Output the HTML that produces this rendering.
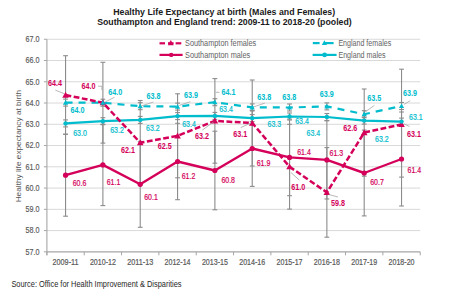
<!DOCTYPE html><html><head><meta charset="utf-8"><style>html,body{margin:0;padding:0;background:#fff;width:449px;height:297px;overflow:hidden}svg{display:block}text{font-family:"Liberation Sans", sans-serif}</style></head><body>
<svg width="449" height="297" viewBox="0 0 449 297">
<rect width="449" height="297" fill="#fff"/>
<text x="113.20" y="15.20" font-size="9.30" fill="#1a1a1a" text-anchor="start" font-weight="bold" textLength="222.00" lengthAdjust="spacingAndGlyphs">Healthy Life Expectancy at birth (Males and Females)</text>
<text x="97.20" y="25.00" font-size="9.30" fill="#1a1a1a" text-anchor="start" font-weight="bold" textLength="254.50" lengthAdjust="spacingAndGlyphs">Southampton and England trend: 2009-11 to 2018-20 (pooled)</text>
<line x1="46.90" y1="230.59" x2="420.20" y2="230.59" stroke="#d9d9d9" stroke-width="1"/>
<line x1="46.90" y1="209.33" x2="420.20" y2="209.33" stroke="#d9d9d9" stroke-width="1"/>
<line x1="46.90" y1="188.07" x2="420.20" y2="188.07" stroke="#d9d9d9" stroke-width="1"/>
<line x1="46.90" y1="166.81" x2="420.20" y2="166.81" stroke="#d9d9d9" stroke-width="1"/>
<line x1="46.90" y1="145.55" x2="420.20" y2="145.55" stroke="#d9d9d9" stroke-width="1"/>
<line x1="46.90" y1="124.29" x2="420.20" y2="124.29" stroke="#d9d9d9" stroke-width="1"/>
<line x1="46.90" y1="103.03" x2="420.20" y2="103.03" stroke="#d9d9d9" stroke-width="1"/>
<line x1="46.90" y1="81.77" x2="420.20" y2="81.77" stroke="#d9d9d9" stroke-width="1"/>
<line x1="46.90" y1="60.51" x2="420.20" y2="60.51" stroke="#d9d9d9" stroke-width="1"/>
<line x1="46.90" y1="39.25" x2="420.20" y2="39.25" stroke="#d9d9d9" stroke-width="1"/>
<line x1="46.90" y1="39.25" x2="46.90" y2="255.35" stroke="#a6a6a6" stroke-width="1.1"/>
<line x1="43.90" y1="251.85" x2="46.90" y2="251.85" stroke="#a6a6a6" stroke-width="1"/>
<text x="39.60" y="254.75" font-size="8.20" fill="#595959" text-anchor="end" stroke="#595959" stroke-width="0.15" textLength="14.00" lengthAdjust="spacingAndGlyphs">57.0</text>
<line x1="43.90" y1="230.59" x2="46.90" y2="230.59" stroke="#a6a6a6" stroke-width="1"/>
<text x="39.60" y="233.49" font-size="8.20" fill="#595959" text-anchor="end" stroke="#595959" stroke-width="0.15" textLength="14.00" lengthAdjust="spacingAndGlyphs">58.0</text>
<line x1="43.90" y1="209.33" x2="46.90" y2="209.33" stroke="#a6a6a6" stroke-width="1"/>
<text x="39.60" y="212.23" font-size="8.20" fill="#595959" text-anchor="end" stroke="#595959" stroke-width="0.15" textLength="14.00" lengthAdjust="spacingAndGlyphs">59.0</text>
<line x1="43.90" y1="188.07" x2="46.90" y2="188.07" stroke="#a6a6a6" stroke-width="1"/>
<text x="39.60" y="190.97" font-size="8.20" fill="#595959" text-anchor="end" stroke="#595959" stroke-width="0.15" textLength="14.00" lengthAdjust="spacingAndGlyphs">60.0</text>
<line x1="43.90" y1="166.81" x2="46.90" y2="166.81" stroke="#a6a6a6" stroke-width="1"/>
<text x="39.60" y="169.71" font-size="8.20" fill="#595959" text-anchor="end" stroke="#595959" stroke-width="0.15" textLength="14.00" lengthAdjust="spacingAndGlyphs">61.0</text>
<line x1="43.90" y1="145.55" x2="46.90" y2="145.55" stroke="#a6a6a6" stroke-width="1"/>
<text x="39.60" y="148.45" font-size="8.20" fill="#595959" text-anchor="end" stroke="#595959" stroke-width="0.15" textLength="14.00" lengthAdjust="spacingAndGlyphs">62.0</text>
<line x1="43.90" y1="124.29" x2="46.90" y2="124.29" stroke="#a6a6a6" stroke-width="1"/>
<text x="39.60" y="127.19" font-size="8.20" fill="#595959" text-anchor="end" stroke="#595959" stroke-width="0.15" textLength="14.00" lengthAdjust="spacingAndGlyphs">63.0</text>
<line x1="43.90" y1="103.03" x2="46.90" y2="103.03" stroke="#a6a6a6" stroke-width="1"/>
<text x="39.60" y="105.93" font-size="8.20" fill="#595959" text-anchor="end" stroke="#595959" stroke-width="0.15" textLength="14.00" lengthAdjust="spacingAndGlyphs">64.0</text>
<line x1="43.90" y1="81.77" x2="46.90" y2="81.77" stroke="#a6a6a6" stroke-width="1"/>
<text x="39.60" y="84.67" font-size="8.20" fill="#595959" text-anchor="end" stroke="#595959" stroke-width="0.15" textLength="14.00" lengthAdjust="spacingAndGlyphs">65.0</text>
<line x1="43.90" y1="60.51" x2="46.90" y2="60.51" stroke="#a6a6a6" stroke-width="1"/>
<text x="39.60" y="63.41" font-size="8.20" fill="#595959" text-anchor="end" stroke="#595959" stroke-width="0.15" textLength="14.00" lengthAdjust="spacingAndGlyphs">66.0</text>
<line x1="43.90" y1="39.25" x2="46.90" y2="39.25" stroke="#a6a6a6" stroke-width="1"/>
<text x="39.60" y="42.15" font-size="8.20" fill="#595959" text-anchor="end" stroke="#595959" stroke-width="0.15" textLength="14.00" lengthAdjust="spacingAndGlyphs">67.0</text>
<line x1="46.90" y1="251.85" x2="420.20" y2="251.85" stroke="#a6a6a6" stroke-width="1.1"/>
<line x1="46.90" y1="251.85" x2="46.90" y2="255.35" stroke="#a6a6a6" stroke-width="1"/>
<line x1="84.23" y1="251.85" x2="84.23" y2="255.35" stroke="#a6a6a6" stroke-width="1"/>
<line x1="121.56" y1="251.85" x2="121.56" y2="255.35" stroke="#a6a6a6" stroke-width="1"/>
<line x1="158.89" y1="251.85" x2="158.89" y2="255.35" stroke="#a6a6a6" stroke-width="1"/>
<line x1="196.22" y1="251.85" x2="196.22" y2="255.35" stroke="#a6a6a6" stroke-width="1"/>
<line x1="233.55" y1="251.85" x2="233.55" y2="255.35" stroke="#a6a6a6" stroke-width="1"/>
<line x1="270.88" y1="251.85" x2="270.88" y2="255.35" stroke="#a6a6a6" stroke-width="1"/>
<line x1="308.21" y1="251.85" x2="308.21" y2="255.35" stroke="#a6a6a6" stroke-width="1"/>
<line x1="345.54" y1="251.85" x2="345.54" y2="255.35" stroke="#a6a6a6" stroke-width="1"/>
<line x1="382.87" y1="251.85" x2="382.87" y2="255.35" stroke="#a6a6a6" stroke-width="1"/>
<line x1="420.20" y1="251.85" x2="420.20" y2="255.35" stroke="#a6a6a6" stroke-width="1"/>
<text x="65.56" y="264.70" font-size="8.60" fill="#595959" text-anchor="middle" stroke="#595959" stroke-width="0.20" textLength="26.00" lengthAdjust="spacingAndGlyphs">2009-11</text>
<text x="102.89" y="264.70" font-size="8.60" fill="#595959" text-anchor="middle" stroke="#595959" stroke-width="0.20" textLength="26.00" lengthAdjust="spacingAndGlyphs">2010-12</text>
<text x="140.22" y="264.70" font-size="8.60" fill="#595959" text-anchor="middle" stroke="#595959" stroke-width="0.20" textLength="26.00" lengthAdjust="spacingAndGlyphs">2011-13</text>
<text x="177.56" y="264.70" font-size="8.60" fill="#595959" text-anchor="middle" stroke="#595959" stroke-width="0.20" textLength="26.00" lengthAdjust="spacingAndGlyphs">2012-14</text>
<text x="214.88" y="264.70" font-size="8.60" fill="#595959" text-anchor="middle" stroke="#595959" stroke-width="0.20" textLength="26.00" lengthAdjust="spacingAndGlyphs">2013-15</text>
<text x="252.22" y="264.70" font-size="8.60" fill="#595959" text-anchor="middle" stroke="#595959" stroke-width="0.20" textLength="26.00" lengthAdjust="spacingAndGlyphs">2014-16</text>
<text x="289.54" y="264.70" font-size="8.60" fill="#595959" text-anchor="middle" stroke="#595959" stroke-width="0.20" textLength="26.00" lengthAdjust="spacingAndGlyphs">2015-17</text>
<text x="326.87" y="264.70" font-size="8.60" fill="#595959" text-anchor="middle" stroke="#595959" stroke-width="0.20" textLength="26.00" lengthAdjust="spacingAndGlyphs">2016-18</text>
<text x="364.20" y="264.70" font-size="8.60" fill="#595959" text-anchor="middle" stroke="#595959" stroke-width="0.20" textLength="26.00" lengthAdjust="spacingAndGlyphs">2017-19</text>
<text x="401.53" y="264.70" font-size="8.60" fill="#595959" text-anchor="middle" stroke="#595959" stroke-width="0.20" textLength="26.00" lengthAdjust="spacingAndGlyphs">2018-20</text>
<text x="0" y="0" font-size="7.7" fill="#595959" text-anchor="middle" textLength="112.5" lengthAdjust="spacingAndGlyphs" transform="translate(21.2 146.1) rotate(-90)">Healthy life expectancy at birth</text>
<text x="11.40" y="287.00" font-size="8.60" fill="#262626" text-anchor="start" textLength="170.20" lengthAdjust="spacingAndGlyphs">Source: Office for Health Improvement &amp; Disparities</text>
<line x1="159.50" y1="43.30" x2="165.00" y2="43.30" stroke="#d4005a" stroke-width="2.2"/>
<line x1="175.60" y1="43.30" x2="181.30" y2="43.30" stroke="#d4005a" stroke-width="2.2"/>
<line x1="168.00" y1="43.30" x2="173.60" y2="43.30" stroke="#d4005a" stroke-width="2.2"/>
<path d="M170.80 40.10L173.70 45.32L167.90 45.32Z" fill="#d4005a"/>
<line x1="159.50" y1="54.90" x2="182.60" y2="54.90" stroke="#d4005a" stroke-width="2.2"/>
<circle cx="171.20" cy="54.90" r="2.20" fill="#d4005a"/>
<text x="185.00" y="46.20" font-size="8.40" fill="#636363" text-anchor="start" textLength="71.20" lengthAdjust="spacingAndGlyphs">Southampton females</text>
<text x="185.00" y="57.80" font-size="8.40" fill="#636363" text-anchor="start" textLength="65.20" lengthAdjust="spacingAndGlyphs">Southampton males</text>
<line x1="312.80" y1="43.10" x2="319.60" y2="43.10" stroke="#00bccd" stroke-width="2.2"/>
<line x1="325.00" y1="43.10" x2="333.60" y2="43.10" stroke="#00bccd" stroke-width="2.2"/>
<path d="M324.40 40.30L327.00 44.98L321.80 44.98Z" fill="#00bccd"/>
<line x1="312.60" y1="54.90" x2="336.60" y2="54.90" stroke="#00bccd" stroke-width="2.2"/>
<circle cx="324.60" cy="54.90" r="2.40" fill="#00bccd"/>
<text x="338.40" y="46.20" font-size="8.40" fill="#636363" text-anchor="start" textLength="52.80" lengthAdjust="spacingAndGlyphs">England females</text>
<text x="338.40" y="57.80" font-size="8.40" fill="#636363" text-anchor="start" textLength="47.20" lengthAdjust="spacingAndGlyphs">England males</text>
<line x1="65.56" y1="55.70" x2="65.56" y2="134.30" stroke="#8c8c8c" stroke-width="1.1"/>
<line x1="63.16" y1="55.70" x2="67.97" y2="55.70" stroke="#8c8c8c" stroke-width="1.1"/>
<line x1="63.16" y1="134.30" x2="67.97" y2="134.30" stroke="#8c8c8c" stroke-width="1.1"/>
<line x1="65.56" y1="134.20" x2="65.56" y2="216.20" stroke="#8c8c8c" stroke-width="1.1"/>
<line x1="63.16" y1="134.20" x2="67.97" y2="134.20" stroke="#8c8c8c" stroke-width="1.1"/>
<line x1="63.16" y1="216.20" x2="67.97" y2="216.20" stroke="#8c8c8c" stroke-width="1.1"/>
<line x1="65.56" y1="99.10" x2="65.56" y2="106.10" stroke="#8c8c8c" stroke-width="1.1"/>
<line x1="63.16" y1="99.10" x2="67.97" y2="99.10" stroke="#8c8c8c" stroke-width="1.1"/>
<line x1="63.16" y1="106.10" x2="67.97" y2="106.10" stroke="#8c8c8c" stroke-width="1.1"/>
<line x1="65.56" y1="119.90" x2="65.56" y2="126.90" stroke="#8c8c8c" stroke-width="1.1"/>
<line x1="63.16" y1="119.90" x2="67.97" y2="119.90" stroke="#8c8c8c" stroke-width="1.1"/>
<line x1="63.16" y1="126.90" x2="67.97" y2="126.90" stroke="#8c8c8c" stroke-width="1.1"/>
<line x1="102.89" y1="62.30" x2="102.89" y2="143.10" stroke="#8c8c8c" stroke-width="1.1"/>
<line x1="100.49" y1="62.30" x2="105.30" y2="62.30" stroke="#8c8c8c" stroke-width="1.1"/>
<line x1="100.49" y1="143.10" x2="105.30" y2="143.10" stroke="#8c8c8c" stroke-width="1.1"/>
<line x1="102.89" y1="124.20" x2="102.89" y2="205.60" stroke="#8c8c8c" stroke-width="1.1"/>
<line x1="100.49" y1="124.20" x2="105.30" y2="124.20" stroke="#8c8c8c" stroke-width="1.1"/>
<line x1="100.49" y1="205.60" x2="105.30" y2="205.60" stroke="#8c8c8c" stroke-width="1.1"/>
<line x1="102.89" y1="99.20" x2="102.89" y2="106.20" stroke="#8c8c8c" stroke-width="1.1"/>
<line x1="100.49" y1="99.20" x2="105.30" y2="99.20" stroke="#8c8c8c" stroke-width="1.1"/>
<line x1="100.49" y1="106.20" x2="105.30" y2="106.20" stroke="#8c8c8c" stroke-width="1.1"/>
<line x1="102.89" y1="117.70" x2="102.89" y2="124.70" stroke="#8c8c8c" stroke-width="1.1"/>
<line x1="100.49" y1="117.70" x2="105.30" y2="117.70" stroke="#8c8c8c" stroke-width="1.1"/>
<line x1="100.49" y1="124.70" x2="105.30" y2="124.70" stroke="#8c8c8c" stroke-width="1.1"/>
<line x1="140.22" y1="100.50" x2="140.22" y2="184.90" stroke="#8c8c8c" stroke-width="1.1"/>
<line x1="137.82" y1="100.50" x2="142.62" y2="100.50" stroke="#8c8c8c" stroke-width="1.1"/>
<line x1="137.82" y1="184.90" x2="142.62" y2="184.90" stroke="#8c8c8c" stroke-width="1.1"/>
<line x1="140.22" y1="141.30" x2="140.22" y2="227.30" stroke="#8c8c8c" stroke-width="1.1"/>
<line x1="137.82" y1="141.30" x2="142.62" y2="141.30" stroke="#8c8c8c" stroke-width="1.1"/>
<line x1="137.82" y1="227.30" x2="142.62" y2="227.30" stroke="#8c8c8c" stroke-width="1.1"/>
<line x1="140.22" y1="102.70" x2="140.22" y2="109.70" stroke="#8c8c8c" stroke-width="1.1"/>
<line x1="137.82" y1="102.70" x2="142.62" y2="102.70" stroke="#8c8c8c" stroke-width="1.1"/>
<line x1="137.82" y1="109.70" x2="142.62" y2="109.70" stroke="#8c8c8c" stroke-width="1.1"/>
<line x1="140.22" y1="116.40" x2="140.22" y2="123.40" stroke="#8c8c8c" stroke-width="1.1"/>
<line x1="137.82" y1="116.40" x2="142.62" y2="116.40" stroke="#8c8c8c" stroke-width="1.1"/>
<line x1="137.82" y1="123.40" x2="142.62" y2="123.40" stroke="#8c8c8c" stroke-width="1.1"/>
<line x1="177.56" y1="93.80" x2="177.56" y2="177.80" stroke="#8c8c8c" stroke-width="1.1"/>
<line x1="175.16" y1="93.80" x2="179.96" y2="93.80" stroke="#8c8c8c" stroke-width="1.1"/>
<line x1="175.16" y1="177.80" x2="179.96" y2="177.80" stroke="#8c8c8c" stroke-width="1.1"/>
<line x1="177.56" y1="123.30" x2="177.56" y2="199.70" stroke="#8c8c8c" stroke-width="1.1"/>
<line x1="175.16" y1="123.30" x2="179.96" y2="123.30" stroke="#8c8c8c" stroke-width="1.1"/>
<line x1="175.16" y1="199.70" x2="179.96" y2="199.70" stroke="#8c8c8c" stroke-width="1.1"/>
<line x1="177.56" y1="103.10" x2="177.56" y2="110.10" stroke="#8c8c8c" stroke-width="1.1"/>
<line x1="175.16" y1="103.10" x2="179.96" y2="103.10" stroke="#8c8c8c" stroke-width="1.1"/>
<line x1="175.16" y1="110.10" x2="179.96" y2="110.10" stroke="#8c8c8c" stroke-width="1.1"/>
<line x1="177.56" y1="112.60" x2="177.56" y2="119.60" stroke="#8c8c8c" stroke-width="1.1"/>
<line x1="175.16" y1="112.60" x2="179.96" y2="112.60" stroke="#8c8c8c" stroke-width="1.1"/>
<line x1="175.16" y1="119.60" x2="179.96" y2="119.60" stroke="#8c8c8c" stroke-width="1.1"/>
<line x1="214.88" y1="78.60" x2="214.88" y2="163.20" stroke="#8c8c8c" stroke-width="1.1"/>
<line x1="212.48" y1="78.60" x2="217.28" y2="78.60" stroke="#8c8c8c" stroke-width="1.1"/>
<line x1="212.48" y1="163.20" x2="217.28" y2="163.20" stroke="#8c8c8c" stroke-width="1.1"/>
<line x1="214.88" y1="131.20" x2="214.88" y2="209.80" stroke="#8c8c8c" stroke-width="1.1"/>
<line x1="212.48" y1="131.20" x2="217.28" y2="131.20" stroke="#8c8c8c" stroke-width="1.1"/>
<line x1="212.48" y1="209.80" x2="217.28" y2="209.80" stroke="#8c8c8c" stroke-width="1.1"/>
<line x1="214.88" y1="98.70" x2="214.88" y2="105.70" stroke="#8c8c8c" stroke-width="1.1"/>
<line x1="212.48" y1="98.70" x2="217.28" y2="98.70" stroke="#8c8c8c" stroke-width="1.1"/>
<line x1="212.48" y1="105.70" x2="217.28" y2="105.70" stroke="#8c8c8c" stroke-width="1.1"/>
<line x1="214.88" y1="112.40" x2="214.88" y2="119.40" stroke="#8c8c8c" stroke-width="1.1"/>
<line x1="212.48" y1="112.40" x2="217.28" y2="112.40" stroke="#8c8c8c" stroke-width="1.1"/>
<line x1="212.48" y1="119.40" x2="217.28" y2="119.40" stroke="#8c8c8c" stroke-width="1.1"/>
<line x1="252.22" y1="80.00" x2="252.22" y2="166.00" stroke="#8c8c8c" stroke-width="1.1"/>
<line x1="249.81" y1="80.00" x2="254.62" y2="80.00" stroke="#8c8c8c" stroke-width="1.1"/>
<line x1="249.81" y1="166.00" x2="254.62" y2="166.00" stroke="#8c8c8c" stroke-width="1.1"/>
<line x1="252.22" y1="110.60" x2="252.22" y2="186.40" stroke="#8c8c8c" stroke-width="1.1"/>
<line x1="249.81" y1="110.60" x2="254.62" y2="110.60" stroke="#8c8c8c" stroke-width="1.1"/>
<line x1="249.81" y1="186.40" x2="254.62" y2="186.40" stroke="#8c8c8c" stroke-width="1.1"/>
<line x1="252.22" y1="103.90" x2="252.22" y2="110.90" stroke="#8c8c8c" stroke-width="1.1"/>
<line x1="249.81" y1="103.90" x2="254.62" y2="103.90" stroke="#8c8c8c" stroke-width="1.1"/>
<line x1="249.81" y1="110.90" x2="254.62" y2="110.90" stroke="#8c8c8c" stroke-width="1.1"/>
<line x1="252.22" y1="114.60" x2="252.22" y2="121.60" stroke="#8c8c8c" stroke-width="1.1"/>
<line x1="249.81" y1="114.60" x2="254.62" y2="114.60" stroke="#8c8c8c" stroke-width="1.1"/>
<line x1="249.81" y1="121.60" x2="254.62" y2="121.60" stroke="#8c8c8c" stroke-width="1.1"/>
<line x1="289.54" y1="124.30" x2="289.54" y2="209.10" stroke="#8c8c8c" stroke-width="1.1"/>
<line x1="287.14" y1="124.30" x2="291.94" y2="124.30" stroke="#8c8c8c" stroke-width="1.1"/>
<line x1="287.14" y1="209.10" x2="291.94" y2="209.10" stroke="#8c8c8c" stroke-width="1.1"/>
<line x1="289.54" y1="119.10" x2="289.54" y2="195.70" stroke="#8c8c8c" stroke-width="1.1"/>
<line x1="287.14" y1="119.10" x2="291.94" y2="119.10" stroke="#8c8c8c" stroke-width="1.1"/>
<line x1="287.14" y1="195.70" x2="291.94" y2="195.70" stroke="#8c8c8c" stroke-width="1.1"/>
<line x1="289.54" y1="104.00" x2="289.54" y2="111.00" stroke="#8c8c8c" stroke-width="1.1"/>
<line x1="287.14" y1="104.00" x2="291.94" y2="104.00" stroke="#8c8c8c" stroke-width="1.1"/>
<line x1="287.14" y1="111.00" x2="291.94" y2="111.00" stroke="#8c8c8c" stroke-width="1.1"/>
<line x1="289.54" y1="113.00" x2="289.54" y2="120.00" stroke="#8c8c8c" stroke-width="1.1"/>
<line x1="287.14" y1="113.00" x2="291.94" y2="113.00" stroke="#8c8c8c" stroke-width="1.1"/>
<line x1="287.14" y1="120.00" x2="291.94" y2="120.00" stroke="#8c8c8c" stroke-width="1.1"/>
<line x1="326.87" y1="147.60" x2="326.87" y2="237.20" stroke="#8c8c8c" stroke-width="1.1"/>
<line x1="324.47" y1="147.60" x2="329.27" y2="147.60" stroke="#8c8c8c" stroke-width="1.1"/>
<line x1="324.47" y1="237.20" x2="329.27" y2="237.20" stroke="#8c8c8c" stroke-width="1.1"/>
<line x1="326.87" y1="120.80" x2="326.87" y2="199.00" stroke="#8c8c8c" stroke-width="1.1"/>
<line x1="324.47" y1="120.80" x2="329.27" y2="120.80" stroke="#8c8c8c" stroke-width="1.1"/>
<line x1="324.47" y1="199.00" x2="329.27" y2="199.00" stroke="#8c8c8c" stroke-width="1.1"/>
<line x1="326.87" y1="102.90" x2="326.87" y2="109.90" stroke="#8c8c8c" stroke-width="1.1"/>
<line x1="324.47" y1="102.90" x2="329.27" y2="102.90" stroke="#8c8c8c" stroke-width="1.1"/>
<line x1="324.47" y1="109.90" x2="329.27" y2="109.90" stroke="#8c8c8c" stroke-width="1.1"/>
<line x1="326.87" y1="113.50" x2="326.87" y2="120.50" stroke="#8c8c8c" stroke-width="1.1"/>
<line x1="324.47" y1="113.50" x2="329.27" y2="113.50" stroke="#8c8c8c" stroke-width="1.1"/>
<line x1="324.47" y1="120.50" x2="329.27" y2="120.50" stroke="#8c8c8c" stroke-width="1.1"/>
<line x1="364.20" y1="89.00" x2="364.20" y2="176.20" stroke="#8c8c8c" stroke-width="1.1"/>
<line x1="361.81" y1="89.00" x2="366.60" y2="89.00" stroke="#8c8c8c" stroke-width="1.1"/>
<line x1="361.81" y1="176.20" x2="366.60" y2="176.20" stroke="#8c8c8c" stroke-width="1.1"/>
<line x1="364.20" y1="130.10" x2="364.20" y2="215.90" stroke="#8c8c8c" stroke-width="1.1"/>
<line x1="361.81" y1="130.10" x2="366.60" y2="130.10" stroke="#8c8c8c" stroke-width="1.1"/>
<line x1="361.81" y1="215.90" x2="366.60" y2="215.90" stroke="#8c8c8c" stroke-width="1.1"/>
<line x1="364.20" y1="110.70" x2="364.20" y2="117.70" stroke="#8c8c8c" stroke-width="1.1"/>
<line x1="361.81" y1="110.70" x2="366.60" y2="110.70" stroke="#8c8c8c" stroke-width="1.1"/>
<line x1="361.81" y1="117.70" x2="366.60" y2="117.70" stroke="#8c8c8c" stroke-width="1.1"/>
<line x1="364.20" y1="117.10" x2="364.20" y2="124.10" stroke="#8c8c8c" stroke-width="1.1"/>
<line x1="361.81" y1="117.10" x2="366.60" y2="117.10" stroke="#8c8c8c" stroke-width="1.1"/>
<line x1="361.81" y1="124.10" x2="366.60" y2="124.10" stroke="#8c8c8c" stroke-width="1.1"/>
<line x1="401.53" y1="69.20" x2="401.53" y2="177.10" stroke="#8c8c8c" stroke-width="1.1"/>
<line x1="399.13" y1="69.20" x2="403.93" y2="69.20" stroke="#8c8c8c" stroke-width="1.1"/>
<line x1="399.13" y1="177.10" x2="403.93" y2="177.10" stroke="#8c8c8c" stroke-width="1.1"/>
<line x1="401.53" y1="112.00" x2="401.53" y2="206.00" stroke="#8c8c8c" stroke-width="1.1"/>
<line x1="399.13" y1="112.00" x2="403.93" y2="112.00" stroke="#8c8c8c" stroke-width="1.1"/>
<line x1="399.13" y1="206.00" x2="403.93" y2="206.00" stroke="#8c8c8c" stroke-width="1.1"/>
<line x1="401.53" y1="102.50" x2="401.53" y2="109.50" stroke="#8c8c8c" stroke-width="1.1"/>
<line x1="399.13" y1="102.50" x2="403.93" y2="102.50" stroke="#8c8c8c" stroke-width="1.1"/>
<line x1="399.13" y1="109.50" x2="403.93" y2="109.50" stroke="#8c8c8c" stroke-width="1.1"/>
<line x1="401.53" y1="118.10" x2="401.53" y2="125.10" stroke="#8c8c8c" stroke-width="1.1"/>
<line x1="399.13" y1="118.10" x2="403.93" y2="118.10" stroke="#8c8c8c" stroke-width="1.1"/>
<line x1="399.13" y1="125.10" x2="403.93" y2="125.10" stroke="#8c8c8c" stroke-width="1.1"/>
<polyline points="65.56,102.60 102.89,102.70 140.22,106.20 177.56,106.60 214.88,102.20 252.22,107.40 289.54,107.50 326.87,106.40 364.20,114.20 401.53,106.00" fill="none" stroke="#00bccd" stroke-width="2.20" stroke-linejoin="round" stroke-dasharray="7,6"/>
<polyline points="65.56,123.40 102.89,121.20 140.22,119.90 177.56,116.10 214.88,115.90 252.22,118.10 289.54,116.50 326.87,117.00 364.20,120.60 401.53,121.60" fill="none" stroke="#00bccd" stroke-width="2.20" stroke-linejoin="round"/>
<polyline points="65.56,95.00 102.89,102.70 140.22,142.70 177.56,135.80 214.88,120.90 252.22,123.00 289.54,166.70 326.87,192.40 364.20,132.60 401.53,124.40" fill="none" stroke="#d4005a" stroke-width="2.50" stroke-linejoin="round" stroke-dasharray="5.8,2.5"/>
<polyline points="65.56,175.20 102.89,164.90 140.22,184.30 177.56,161.50 214.88,170.50 252.22,148.50 289.54,157.40 326.87,159.90 364.20,173.00 401.53,159.00" fill="none" stroke="#d4005a" stroke-width="2.40" stroke-linejoin="round"/>
<path d="M65.56 91.70L68.86 97.64L62.27 97.64Z" fill="#d4005a"/>
<circle cx="65.56" cy="175.20" r="2.60" fill="#d4005a"/>
<path d="M65.56 100.00L68.16 104.68L62.96 104.68Z" fill="#00bccd"/>
<circle cx="65.56" cy="123.40" r="2.20" fill="#00bccd"/>
<path d="M102.89 99.40L106.19 105.34L99.59 105.34Z" fill="#d4005a"/>
<circle cx="102.89" cy="164.90" r="2.60" fill="#d4005a"/>
<path d="M102.89 100.10L105.49 104.78L100.30 104.78Z" fill="#00bccd"/>
<circle cx="102.89" cy="121.20" r="2.20" fill="#00bccd"/>
<path d="M140.22 139.40L143.53 145.34L136.92 145.34Z" fill="#d4005a"/>
<circle cx="140.22" cy="184.30" r="2.60" fill="#d4005a"/>
<path d="M140.22 103.60L142.82 108.28L137.62 108.28Z" fill="#00bccd"/>
<circle cx="140.22" cy="119.90" r="2.20" fill="#00bccd"/>
<path d="M177.56 132.50L180.86 138.44L174.25 138.44Z" fill="#d4005a"/>
<circle cx="177.56" cy="161.50" r="2.60" fill="#d4005a"/>
<path d="M177.56 104.00L180.16 108.68L174.96 108.68Z" fill="#00bccd"/>
<circle cx="177.56" cy="116.10" r="2.20" fill="#00bccd"/>
<path d="M214.88 117.60L218.19 123.54L211.58 123.54Z" fill="#d4005a"/>
<circle cx="214.88" cy="170.50" r="2.60" fill="#d4005a"/>
<path d="M214.88 99.60L217.48 104.28L212.28 104.28Z" fill="#00bccd"/>
<circle cx="214.88" cy="115.90" r="2.20" fill="#00bccd"/>
<path d="M252.22 119.70L255.52 125.64L248.91 125.64Z" fill="#d4005a"/>
<circle cx="252.22" cy="148.50" r="2.60" fill="#d4005a"/>
<path d="M252.22 104.80L254.81 109.48L249.62 109.48Z" fill="#00bccd"/>
<circle cx="252.22" cy="118.10" r="2.20" fill="#00bccd"/>
<path d="M289.54 163.40L292.84 169.34L286.24 169.34Z" fill="#d4005a"/>
<circle cx="289.54" cy="157.40" r="2.60" fill="#d4005a"/>
<path d="M289.54 104.90L292.14 109.58L286.94 109.58Z" fill="#00bccd"/>
<circle cx="289.54" cy="116.50" r="2.20" fill="#00bccd"/>
<path d="M326.87 189.10L330.17 195.04L323.57 195.04Z" fill="#d4005a"/>
<circle cx="326.87" cy="159.90" r="2.60" fill="#d4005a"/>
<path d="M326.87 103.80L329.47 108.48L324.27 108.48Z" fill="#00bccd"/>
<circle cx="326.87" cy="117.00" r="2.20" fill="#00bccd"/>
<path d="M364.20 129.30L367.50 135.24L360.90 135.24Z" fill="#d4005a"/>
<circle cx="364.20" cy="173.00" r="2.60" fill="#d4005a"/>
<path d="M364.20 111.60L366.81 116.28L361.60 116.28Z" fill="#00bccd"/>
<circle cx="364.20" cy="120.60" r="2.20" fill="#00bccd"/>
<path d="M401.53 121.10L404.83 127.04L398.23 127.04Z" fill="#d4005a"/>
<circle cx="401.53" cy="159.00" r="2.60" fill="#d4005a"/>
<path d="M401.53 103.40L404.13 108.08L398.93 108.08Z" fill="#00bccd"/>
<circle cx="401.53" cy="121.60" r="2.20" fill="#00bccd"/>
<polyline points="55.30,90.10 64.20,93.70" fill="none" stroke="#a6a6a6" stroke-width="0.8"/>
<polyline points="98.00,86.20 101.90,86.20 101.90,90.00" fill="none" stroke="#a6a6a6" stroke-width="0.8"/>
<polyline points="114.50,97.30 105.60,101.70" fill="none" stroke="#a6a6a6" stroke-width="0.8"/>
<polyline points="153.40,102.00 141.30,106.00" fill="none" stroke="#a6a6a6" stroke-width="0.8"/>
<polyline points="190.40,101.70 179.30,105.40" fill="none" stroke="#a6a6a6" stroke-width="0.8"/>
<polyline points="215.60,92.30 219.50,92.30" fill="none" stroke="#a6a6a6" stroke-width="0.8"/>
<polyline points="264.80,103.10 253.70,106.90" fill="none" stroke="#a6a6a6" stroke-width="0.8"/>
<polyline points="202.40,130.00 213.50,122.00" fill="none" stroke="#a6a6a6" stroke-width="0.8"/>
<polyline points="240.70,127.60 250.90,123.00" fill="none" stroke="#a6a6a6" stroke-width="0.8"/>
<polyline points="291.00,172.60 299.40,180.20" fill="none" stroke="#a6a6a6" stroke-width="0.8"/>
<polyline points="328.80,194.50 338.00,197.00" fill="none" stroke="#a6a6a6" stroke-width="0.8"/>
<polyline points="374.40,105.40 365.20,111.90" fill="none" stroke="#a6a6a6" stroke-width="0.8"/>
<polyline points="410.20,100.70 404.10,104.40" fill="none" stroke="#a6a6a6" stroke-width="0.8"/>
<polyline points="404.10,123.90 409.50,126.50" fill="none" stroke="#a6a6a6" stroke-width="0.8"/>
<text x="55.00" y="85.70" font-size="8.20" fill="#d4005a" text-anchor="middle" font-weight="bold" textLength="14.00" lengthAdjust="spacingAndGlyphs">64.4</text>
<text x="88.40" y="89.20" font-size="8.20" fill="#d4005a" text-anchor="middle" font-weight="bold" textLength="14.00" lengthAdjust="spacingAndGlyphs">64.0</text>
<text x="128.00" y="152.60" font-size="8.20" fill="#d4005a" text-anchor="middle" font-weight="bold" textLength="14.00" lengthAdjust="spacingAndGlyphs">62.1</text>
<text x="164.70" y="149.30" font-size="8.20" fill="#d4005a" text-anchor="middle" font-weight="bold" textLength="14.00" lengthAdjust="spacingAndGlyphs">62.5</text>
<text x="202.00" y="138.50" font-size="8.20" fill="#d4005a" text-anchor="middle" font-weight="bold" textLength="14.00" lengthAdjust="spacingAndGlyphs">63.2</text>
<text x="240.20" y="136.90" font-size="8.20" fill="#d4005a" text-anchor="middle" font-weight="bold" textLength="14.00" lengthAdjust="spacingAndGlyphs">63.1</text>
<text x="298.30" y="189.70" font-size="8.20" fill="#d4005a" text-anchor="middle" font-weight="bold" textLength="14.00" lengthAdjust="spacingAndGlyphs">61.0</text>
<text x="338.00" y="206.40" font-size="8.20" fill="#d4005a" text-anchor="middle" font-weight="bold" textLength="14.00" lengthAdjust="spacingAndGlyphs">59.8</text>
<text x="350.20" y="131.10" font-size="8.20" fill="#d4005a" text-anchor="middle" font-weight="bold" textLength="14.00" lengthAdjust="spacingAndGlyphs">62.6</text>
<text x="414.00" y="136.50" font-size="8.20" fill="#d4005a" text-anchor="middle" font-weight="bold" textLength="14.00" lengthAdjust="spacingAndGlyphs">63.1</text>
<text x="79.50" y="186.40" font-size="8.20" fill="#d4005a" text-anchor="middle" stroke="#d4005a" stroke-width="0.20" textLength="13.60" lengthAdjust="spacingAndGlyphs">60.6</text>
<text x="113.50" y="184.70" font-size="8.20" fill="#d4005a" text-anchor="middle" stroke="#d4005a" stroke-width="0.20" textLength="13.60" lengthAdjust="spacingAndGlyphs">61.1</text>
<text x="151.00" y="199.90" font-size="8.20" fill="#d4005a" text-anchor="middle" stroke="#d4005a" stroke-width="0.20" textLength="13.60" lengthAdjust="spacingAndGlyphs">60.1</text>
<text x="188.50" y="178.90" font-size="8.20" fill="#d4005a" text-anchor="middle" stroke="#d4005a" stroke-width="0.20" textLength="13.60" lengthAdjust="spacingAndGlyphs">61.2</text>
<text x="228.20" y="182.70" font-size="8.20" fill="#d4005a" text-anchor="middle" stroke="#d4005a" stroke-width="0.20" textLength="13.60" lengthAdjust="spacingAndGlyphs">60.8</text>
<text x="263.50" y="165.90" font-size="8.20" fill="#d4005a" text-anchor="middle" stroke="#d4005a" stroke-width="0.20" textLength="13.60" lengthAdjust="spacingAndGlyphs">61.9</text>
<text x="304.00" y="155.20" font-size="8.20" fill="#d4005a" text-anchor="middle" stroke="#d4005a" stroke-width="0.20" textLength="13.60" lengthAdjust="spacingAndGlyphs">61.4</text>
<text x="336.40" y="155.70" font-size="8.20" fill="#d4005a" text-anchor="middle" stroke="#d4005a" stroke-width="0.20" textLength="13.60" lengthAdjust="spacingAndGlyphs">61.3</text>
<text x="377.00" y="184.80" font-size="8.20" fill="#d4005a" text-anchor="middle" stroke="#d4005a" stroke-width="0.20" textLength="13.60" lengthAdjust="spacingAndGlyphs">60.7</text>
<text x="414.30" y="173.40" font-size="8.20" fill="#d4005a" text-anchor="middle" stroke="#d4005a" stroke-width="0.20" textLength="13.60" lengthAdjust="spacingAndGlyphs">61.4</text>
<text x="77.50" y="112.60" font-size="8.20" fill="#00bccd" text-anchor="middle" font-weight="bold" textLength="14.00" lengthAdjust="spacingAndGlyphs">64.0</text>
<text x="115.20" y="94.60" font-size="8.20" fill="#00bccd" text-anchor="middle" font-weight="bold" textLength="14.00" lengthAdjust="spacingAndGlyphs">64.0</text>
<text x="153.50" y="99.20" font-size="8.20" fill="#00bccd" text-anchor="middle" font-weight="bold" textLength="14.00" lengthAdjust="spacingAndGlyphs">63.8</text>
<text x="191.10" y="98.10" font-size="8.20" fill="#00bccd" text-anchor="middle" font-weight="bold" textLength="14.00" lengthAdjust="spacingAndGlyphs">63.9</text>
<text x="228.50" y="95.20" font-size="8.20" fill="#00bccd" text-anchor="middle" font-weight="bold" textLength="14.00" lengthAdjust="spacingAndGlyphs">64.1</text>
<text x="264.20" y="99.90" font-size="8.20" fill="#00bccd" text-anchor="middle" font-weight="bold" textLength="14.00" lengthAdjust="spacingAndGlyphs">63.8</text>
<text x="289.30" y="100.30" font-size="8.20" fill="#00bccd" text-anchor="middle" font-weight="bold" textLength="14.00" lengthAdjust="spacingAndGlyphs">63.8</text>
<text x="326.80" y="96.90" font-size="8.20" fill="#00bccd" text-anchor="middle" font-weight="bold" textLength="14.00" lengthAdjust="spacingAndGlyphs">63.9</text>
<text x="374.30" y="100.80" font-size="8.20" fill="#00bccd" text-anchor="middle" font-weight="bold" textLength="14.00" lengthAdjust="spacingAndGlyphs">63.5</text>
<text x="410.00" y="96.20" font-size="8.20" fill="#00bccd" text-anchor="middle" font-weight="bold" textLength="14.00" lengthAdjust="spacingAndGlyphs">63.9</text>
<text x="80.00" y="135.80" font-size="8.20" fill="#00bccd" text-anchor="middle" stroke="#00bccd" stroke-width="0.20" textLength="13.60" lengthAdjust="spacingAndGlyphs">63.0</text>
<text x="117.00" y="132.90" font-size="8.20" fill="#00bccd" text-anchor="middle" stroke="#00bccd" stroke-width="0.20" textLength="13.60" lengthAdjust="spacingAndGlyphs">63.2</text>
<text x="152.80" y="131.10" font-size="8.20" fill="#00bccd" text-anchor="middle" stroke="#00bccd" stroke-width="0.20" textLength="13.60" lengthAdjust="spacingAndGlyphs">63.2</text>
<text x="189.00" y="126.80" font-size="8.20" fill="#00bccd" text-anchor="middle" stroke="#00bccd" stroke-width="0.20" textLength="13.60" lengthAdjust="spacingAndGlyphs">63.4</text>
<text x="226.00" y="111.60" font-size="8.20" fill="#00bccd" text-anchor="middle" stroke="#00bccd" stroke-width="0.20" textLength="13.60" lengthAdjust="spacingAndGlyphs">63.4</text>
<text x="274.40" y="127.30" font-size="8.20" fill="#00bccd" text-anchor="middle" stroke="#00bccd" stroke-width="0.20" textLength="13.60" lengthAdjust="spacingAndGlyphs">63.3</text>
<text x="302.00" y="123.50" font-size="8.20" fill="#00bccd" text-anchor="middle" stroke="#00bccd" stroke-width="0.20" textLength="13.60" lengthAdjust="spacingAndGlyphs">63.4</text>
<text x="313.30" y="135.50" font-size="8.20" fill="#00bccd" text-anchor="middle" stroke="#00bccd" stroke-width="0.20" textLength="13.60" lengthAdjust="spacingAndGlyphs">63.4</text>
<text x="381.90" y="141.90" font-size="8.20" fill="#00bccd" text-anchor="middle" stroke="#00bccd" stroke-width="0.20" textLength="13.60" lengthAdjust="spacingAndGlyphs">63.2</text>
<text x="415.80" y="120.30" font-size="8.20" fill="#00bccd" text-anchor="middle" stroke="#00bccd" stroke-width="0.20" textLength="13.60" lengthAdjust="spacingAndGlyphs">63.1</text>
</svg></body></html>
